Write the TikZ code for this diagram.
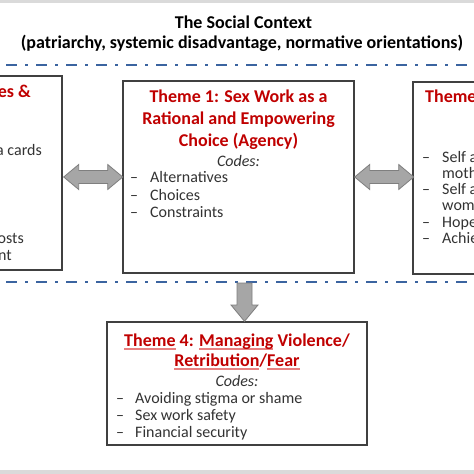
\documentclass[tikz,border=0pt]{standalone}
\usepackage{fontspec}
\setmainfont{Carlito}
\definecolor{themered}{HTML}{C00000}
\definecolor{bodytxt}{HTML}{333333}
\definecolor{boxline}{HTML}{404040}
\definecolor{arrowfill}{HTML}{A6A6A6}
\definecolor{arrowline}{HTML}{7F7F7F}
\definecolor{ddblue}{HTML}{3B64A0}
\definecolor{band}{HTML}{DADADA}
\definecolor{ulred}{HTML}{E88080}
\newcommand{\spellul}[1]{\sbox0{#1}\rlap{\color{ulred}\rule[-3.5pt]{\wd0}{1.1pt}}\usebox0}
\tikzset{
  themebox/.style={draw=boxline, line width=1.4pt, fill=white, inner sep=0pt},
  ttl/.style={font=\bfseries\fontsize{18}{22}\selectfont, text=black, anchor=base},
  thm/.style={font=\bfseries\fontsize{18}{22}\selectfont, text=themered},
  codes/.style={font=\itshape\fontsize{16}{18}\selectfont, text=bodytxt, anchor=base},
  itm/.style={font=\fontsize{16}{18}\selectfont, text=bodytxt, anchor=base west, inner sep=0pt},
  blockarrow/.style={fill=arrowfill, draw=arrowline, line width=0.8pt, line join=miter},
  ddline/.style={draw=ddblue, line width=2pt, dash pattern=on 11pt off 8pt on 3pt off 8pt},
}
\begin{document}
\begin{tikzpicture}[x=1pt, y=-1pt]
\useasboundingbox (0,0) rectangle (474,474);
\clip (0,0) rectangle (474,474);
\fill[white] (0,0) rectangle (474,474);
\fill[band] (0,0) rectangle (474,3);
\fill[band] (0,470) rectangle (474,474);

% title
\node[ttl] (title1) at (243.5,28) {The Social Context};
\node[ttl] (title2) at (242,48) {(patriarchy, systemic disadvantage, normative orientations)};

% dash-dot lines
\coordinate (ddL1) at (6,65);
\coordinate (ddR1) at (470,65);
\draw[ddline] (ddL1) -- (ddR1);
\coordinate (ddL2) at (6,281.5);
\coordinate (ddR2) at (470,281.5);
\draw[ddline] (ddL2) -- (ddR2);

% boxes
\node[themebox, minimum width=72pt, minimum height=194pt] (leftbox) at (26,173) {};
\node[themebox, minimum width=231pt, minimum height=192pt] (midbox) at (238.5,177) {};
\node[themebox, minimum width=72pt, minimum height=192pt] (rightbox) at (449,178) {};
\node[themebox, minimum width=260pt, minimum height=123pt] (botbox) at (237,383.5) {};

% left box fragments
\node[thm, anchor=base east, inner sep=0pt] (lt1) at (31,97) {es \&};
\node[itm, anchor=base east] (li1) at (42,155) {a cards};
\node[itm, anchor=base east] (li2) at (24,243) {osts};
\node[itm, anchor=base east] (li3) at (12,260) {nt};

% middle box
\node[thm, anchor=base] (m1) at (238.5,102) {Theme 1: Sex Work as a};
\node[thm, anchor=base] (m2) at (238.5,124) {Rational and Empowering};
\node[thm, anchor=base] (m3) at (238.5,146) {Choice (Agency)};
\node[codes] (mc) at (238.5,166) {Codes:};
\node[itm] (md1) at (130,182) {–};
\node[itm] (mi1) at (150,182) {Alternatives};
\node[itm] (md2) at (130,200) {–};
\node[itm] (mi2) at (150,200) {Choices};
\node[itm] (md3) at (130,217) {–};
\node[itm] (mi3) at (150,217) {Constraints};

% right box fragments
\node[thm, anchor=base west, inner sep=0pt] (r1) at (425,102) {Theme};
\node[itm] (rd1) at (422,162) {–};
\node[itm] (ri1) at (442,162) {Self a};
\node[itm] (ri1b) at (442,178) {moth};
\node[itm] (rd2) at (422,194) {–};
\node[itm] (ri2) at (442,194) {Self a};
\node[itm] (ri2b) at (442,210) {wom};
\node[itm] (rd3) at (422,227) {–};
\node[itm] (ri3) at (442,227) {Hope};
\node[itm] (rd4) at (422,243) {–};
\node[itm] (ri4) at (442,243) {Achie};

% bottom box
\node[thm, anchor=base] (b1) at (237,346) {\spellul{Theme} 4: \spellul{Managing} Violence/};
\node[thm, anchor=base] (b2) at (237,366) {\spellul{Retribution}/\spellul{Fear}};
\node[codes] (bc) at (237,386) {Codes:};
\node[itm] (bd1) at (116,403) {–};
\node[itm] (bi1) at (135,403) {Avoiding stigma or shame};
\node[itm] (bd2) at (116,420) {–};
\node[itm] (bi2) at (135,420) {Sex work safety};
\node[itm] (bd3) at (116,437) {–};
\node[itm] (bi3) at (135,437) {Financial security};

% block arrows
\draw[blockarrow] (leftbox.east |- 0,177) ++(1,0) coordinate (la)
  -- ++(15,-12.5) -- ++(0,6) -- ++(29,0) -- ++(0,-6) -- ++(15,12.5)
  -- ++(-15,12.5) -- ++(0,-6) -- ++(-29,0) -- ++(0,6) -- cycle;
\draw[blockarrow] (midbox.east |- 0,177) ++(0,0) coordinate (ra)
  -- ++(15,-12.5) -- ++(0,6) -- ++(29,0) -- ++(0,-6) -- ++(15,12.5)
  -- ++(-15,12.5) -- ++(0,-6) -- ++(-29,0) -- ++(0,6) -- cycle;
\draw[blockarrow] (237,283) coordinate (da)
  -- (252,283) -- (252,305) -- (258,305) -- (botbox.north -| 244.5,0)
  -- (231,305) -- (237,305) -- cycle;
\end{tikzpicture}
\end{document}
